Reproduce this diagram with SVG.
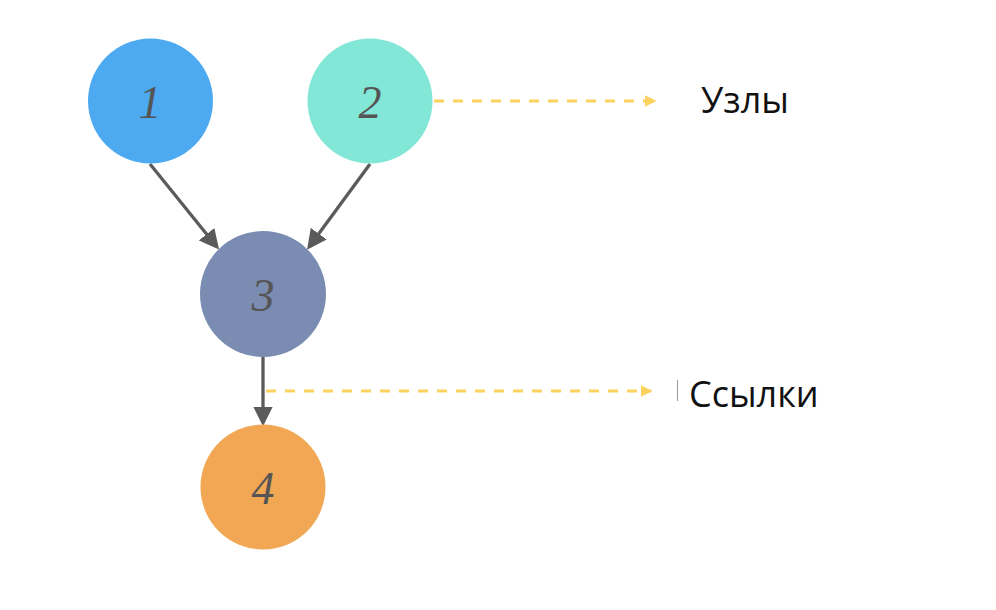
<svg xmlns="http://www.w3.org/2000/svg" width="996" height="610" viewBox="0 0 996 610">
<style>
.num{font-family:"Liberation Serif","Times New Roman",serif;font-style:italic;font-size:46px;fill:#555;text-anchor:middle}
.lbl{font-family:"Open Sans","Noto Sans",sans-serif;font-size:36px;fill:#111}
.edge{stroke:#5b5b5b;stroke-width:3.3;fill:none}
.dash{stroke:#FCD25E;stroke-width:3;stroke-dasharray:10 9;fill:none}
</style>
<defs>
<marker id="ah" markerWidth="6" markerHeight="6" refX="5" refY="3" orient="auto" markerUnits="strokeWidth"><path d="M0,0 L6,3 L0,6 z" fill="#5b5b5b"/></marker>
<marker id="ay" markerWidth="4" markerHeight="4" refX="3.5" refY="2" orient="auto" markerUnits="strokeWidth"><path d="M0,0 L4,2 L0,4 z" fill="#FCD25E"/></marker>
</defs>
<rect width="996" height="610" fill="#fff"/>
<g id="connectors">
<line class="edge" x1="150" y1="164" x2="217" y2="247" marker-end="url(#ah)"/>
<line class="edge" x1="370" y1="164" x2="309" y2="247" marker-end="url(#ah)"/>
<line class="edge" x1="263" y1="357" x2="263" y2="423" marker-end="url(#ah)"/>
<line class="dash" x1="434" y1="101" x2="655" y2="101" marker-end="url(#ay)"/>
<line class="dash" x1="266" y1="391" x2="651" y2="391" marker-end="url(#ay)"/>
</g>
<g id="node1"><circle cx="150.5" cy="101" r="62.5" fill="#4DAAF1"/><text class="num" x="150" y="118">1</text></g>
<g id="node2"><circle cx="370" cy="101" r="62.5" fill="#82E7D7"/><text class="num" x="370" y="118">2</text></g>
<g id="node3"><circle cx="263" cy="294" r="63" fill="#7A8CB1"/><text class="num" x="263" y="311">3</text></g>
<g id="node4"><circle cx="263" cy="487" r="62.5" fill="#F2A754"/><text class="num" x="263" y="504">4</text></g>
<g id="labels">
<text class="lbl" x="701" y="113">Узлы</text>
<line x1="677.5" y1="380" x2="677.5" y2="401" stroke="#999" stroke-width="1"/>
<text class="lbl" x="689" y="407">Ссылки</text>
</g>
</svg>
